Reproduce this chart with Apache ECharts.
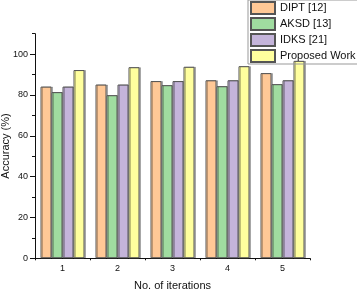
<!DOCTYPE html>
<html><head><meta charset="utf-8">
<script src="https://cdn.jsdelivr.net/npm/echarts@6/dist/echarts.min.js"></script>
<style>html,body{margin:0;padding:0;background:#fff}#c{width:357px;height:290px}</style>
</head><body><div id="c"></div>
<script>
const categories = ['1', '2', '3', '4', '5'];
const seriesNames = ['DIPT [12]', 'AKSD [13]', 'IDKS [21]', 'Proposed Work'];
const dipt = [84.1, 85.1, 86.8, 87.2, 90.7];
const aksd = [81.4, 79.9, 84.8, 84.3, 85.3];
const idks = [84.1, 85.1, 86.8, 87.2, 87.2];
const proposed = [92.2, 93.6, 93.8, 94.1, 96.7];
const yMajorTicks = [0, 20, 40, 60, 80, 100];
const colors = ['#FFC896', '#A0DCA0', '#C4B4DA', '#FFFF9E'];
const values = [dipt, aksd, idks, proposed];

const chart = echarts.init(document.getElementById('c'), null, {renderer: 'canvas'});
const font = 'Liberation Sans, Arial, sans-serif';
chart.setOption({
  animation: false,
  backgroundColor: '#fff',
  grid: {left: 35, right: 47, top: 33.7, bottom: 31.7, containLabel: false, outerBoundsMode: 'none'},
  legend: {
    orient: 'vertical', left: 248, top: 0,
    padding: [1, 20, 1, 2], itemGap: 2, itemWidth: 24, itemHeight: 12,
    borderColor: '#999', borderWidth: 1, icon: 'rect',
    textStyle: {fontFamily: font, fontSize: 11, color: '#111'},
    data: seriesNames
  },
  xAxis: [{
    type: 'category', data: categories, boundaryGap: true,
    name: 'No. of iterations', nameLocation: 'middle', nameGap: 22, nameMoveOverlap: false,
    nameTextStyle: {fontFamily: font, fontSize: 11, color: '#111'},
    axisLine: {lineStyle: {color: '#111', width: 1}},
    axisTick: {alignWithLabel: true, length: 4, lineStyle: {color: '#111'}},
    axisLabel: {fontFamily: font, fontSize: 9, color: '#111', margin: 6}
  }, {
    type: 'category', data: categories, boundaryGap: true, position: 'bottom',
    axisLine: {show: false},
    axisTick: {show: true, length: 2, lineStyle: {color: '#111'}},
    axisLabel: {show: false}
  }],
  yAxis: [{
    type: 'value', min: 0, max: 110, interval: 10,
    name: 'Accuracy (%)', nameLocation: 'middle', nameGap: 24, nameMoveOverlap: false,
    nameTextStyle: {fontFamily: font, fontSize: 11, color: '#111'},
    axisLine: {show: true, lineStyle: {color: '#111', width: 1}},
    axisTick: {show: true, length: 3, lineStyle: {color: '#111'}},
    axisLabel: {fontFamily: font, fontSize: 9, color: '#111', margin: 7, customValues: yMajorTicks},
    splitLine: {show: false}
  }, {
    type: 'value', min: 0, max: 110, interval: 10, position: 'left',
    axisLine: {show: false},
    axisTick: {show: true, length: 5, customValues: yMajorTicks, lineStyle: {color: '#111'}},
    axisLabel: {show: false},
    splitLine: {show: false}
  }],
  series: seriesNames.map((n, i) => ({
    name: n, type: 'bar', data: values[i],
    barGap: '0%', barCategoryGap: '20%',
    itemStyle: {color: colors[i], borderColor: '#555', borderWidth: 1,
      shadowColor: 'rgba(0,0,0,0.25)', shadowOffsetX: 1.5, shadowOffsetY: 0, shadowBlur: 0}
  }))
});
</script></body></html>
